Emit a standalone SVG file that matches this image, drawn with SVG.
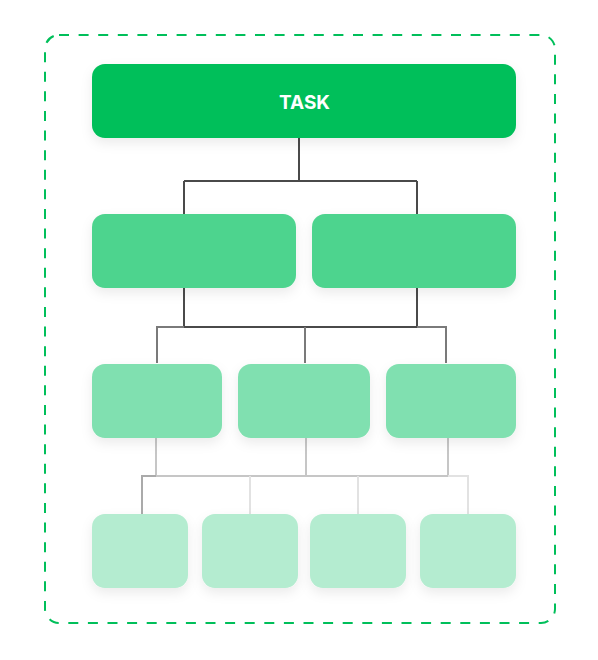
<svg xmlns="http://www.w3.org/2000/svg" width="598" height="660" viewBox="0 0 598 660">
<style>
.frame{fill:none;stroke:#00BF5A;stroke-width:2;stroke-dasharray:10 9.6}
.n1{fill:#00BF5A}
.n2{fill:#4ED48E}
.n3{fill:#80E0B0}
.n4{fill:#B4ECD0}
.c{fill:none;stroke-width:2}
.lbl{font-family:Inter,"Liberation Sans",sans-serif;font-weight:700;font-size:19px;fill:#ffffff}
</style>
<defs>
<filter id="sh" x="-20%" y="-30%" width="140%" height="170%">
<feDropShadow dx="0" dy="5" stdDeviation="6" flood-color="#000000" flood-opacity="0.08"/>
</filter>
</defs>
<rect width="598" height="660" fill="#ffffff"/>
<rect class="frame" x="45" y="35" width="510" height="588" rx="14"/>
<g id="connectors">
<path class="c" stroke="#4a4a4a" d="M299 138V181M184 181H417M184 181V214M417 181V214"/>
<path class="c" stroke="#4a4a4a" d="M184 288V327M417 288V327M184 327H417"/>
<path class="c" stroke="#7a7a7a" d="M157 363V327H184M417 327H446V363M305 327V363"/>
<path class="c" stroke="#c6c6c6" d="M156 438V476M306 438V476M448 438V476M156 476H448"/>
<path class="c" stroke="#aaaaaa" d="M142 514V476H156"/>
<path class="c" stroke="#e2e2e2" d="M250 476V514M358 476V514M448 476H468V514"/>
</g>
<g id="task"><rect class="n1" x="92" y="64" width="424" height="74" rx="13" filter="url(#sh)"/>
<text class="lbl" x="304.5" y="109" text-anchor="middle">TASK</text></g>
<g id="l2a" filter="url(#sh)"><rect class="n2" x="92" y="214" width="204" height="74" rx="13"/></g>
<g id="l2b" filter="url(#sh)"><rect class="n2" x="312" y="214" width="204" height="74" rx="13"/></g>
<g id="l3a" filter="url(#sh)"><rect class="n3" x="92" y="364" width="130" height="74" rx="13"/></g>
<g id="l3b" filter="url(#sh)"><rect class="n3" x="238" y="364" width="132" height="74" rx="13"/></g>
<g id="l3c" filter="url(#sh)"><rect class="n3" x="386" y="364" width="130" height="74" rx="13"/></g>
<g id="l4a" filter="url(#sh)"><rect class="n4" x="92" y="514" width="96" height="74" rx="13"/></g>
<g id="l4b" filter="url(#sh)"><rect class="n4" x="202" y="514" width="96" height="74" rx="13"/></g>
<g id="l4c" filter="url(#sh)"><rect class="n4" x="310" y="514" width="96" height="74" rx="13"/></g>
<g id="l4d" filter="url(#sh)"><rect class="n4" x="420" y="514" width="96" height="74" rx="13"/></g>
</svg>
